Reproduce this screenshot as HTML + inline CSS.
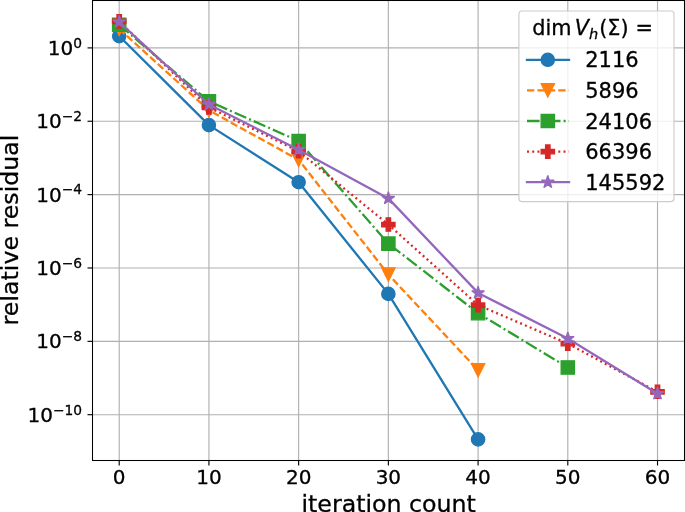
<!DOCTYPE html>
<html lang="en"><head><meta charset="utf-8"><title>relative residual vs iteration count</title>
<style>html,body{margin:0;padding:0;background:#fff;overflow:hidden}svg{display:block}text{font-family:"DejaVu Sans","Liberation Sans",sans-serif;fill:#000;stroke:#000;stroke-width:0.3px}.it{font-style:oblique}</style></head><body>
<svg width="685" height="512" viewBox="0 0 685 512">
<rect width="685" height="512" fill="#fff"/>
<g stroke="#b0b0b0" stroke-width="1.14" fill="none">
<line x1="119.20" y1="0.5" x2="119.20" y2="460.5"/>
<line x1="208.92" y1="0.5" x2="208.92" y2="460.5"/>
<line x1="298.64" y1="0.5" x2="298.64" y2="460.5"/>
<line x1="388.36" y1="0.5" x2="388.36" y2="460.5"/>
<line x1="478.08" y1="0.5" x2="478.08" y2="460.5"/>
<line x1="567.80" y1="0.5" x2="567.80" y2="460.5"/>
<line x1="657.52" y1="0.5" x2="657.52" y2="460.5"/>
<line x1="92.5" y1="47.90" x2="684.5" y2="47.90"/>
<line x1="92.5" y1="121.26" x2="684.5" y2="121.26"/>
<line x1="92.5" y1="194.62" x2="684.5" y2="194.62"/>
<line x1="92.5" y1="267.98" x2="684.5" y2="267.98"/>
<line x1="92.5" y1="341.34" x2="684.5" y2="341.34"/>
<line x1="92.5" y1="414.70" x2="684.5" y2="414.70"/>
</g>
<clipPath id="ax"><rect x="92.5" y="0.5" width="592.0" height="460.0"/></clipPath>
<g clip-path="url(#ax)">
<polyline points="119.20,36.10 208.92,125.10 298.64,182.20 388.36,293.90 478.08,439.40" fill="none" stroke="#1f77b4" stroke-width="2.3" stroke-linejoin="round" stroke-linecap="square"/>
<circle cx="119.20" cy="36.10" r="6.65" fill="#1f77b4" stroke="#1f77b4" stroke-width="1.31"/>
<circle cx="208.92" cy="125.10" r="6.65" fill="#1f77b4" stroke="#1f77b4" stroke-width="1.31"/>
<circle cx="298.64" cy="182.20" r="6.65" fill="#1f77b4" stroke="#1f77b4" stroke-width="1.31"/>
<circle cx="388.36" cy="293.90" r="6.65" fill="#1f77b4" stroke="#1f77b4" stroke-width="1.31"/>
<circle cx="478.08" cy="439.40" r="6.65" fill="#1f77b4" stroke="#1f77b4" stroke-width="1.31"/>
<polyline points="119.20,28.90 208.92,110.30 298.64,159.80 388.36,274.50 478.08,370.20" fill="none" stroke="#ff7f0e" stroke-width="2.3" stroke-linejoin="round" stroke-dasharray="7.29 3.15"/>
<polygon points="119.20,35.55 125.85,22.25 112.55,22.25" fill="#ff7f0e" stroke="#ff7f0e" stroke-width="1.31"/>
<polygon points="208.92,116.95 215.57,103.65 202.27,103.65" fill="#ff7f0e" stroke="#ff7f0e" stroke-width="1.31"/>
<polygon points="298.64,166.45 305.29,153.15 291.99,153.15" fill="#ff7f0e" stroke="#ff7f0e" stroke-width="1.31"/>
<polygon points="388.36,281.15 395.01,267.85 381.71,267.85" fill="#ff7f0e" stroke="#ff7f0e" stroke-width="1.31"/>
<polygon points="478.08,376.85 484.73,363.55 471.43,363.55" fill="#ff7f0e" stroke="#ff7f0e" stroke-width="1.31"/>
<polyline points="119.20,24.80 208.92,101.30 298.64,141.00 388.36,243.60 478.08,313.20 567.80,367.50" fill="none" stroke="#2ca02c" stroke-width="2.3" stroke-linejoin="round" stroke-dasharray="12.6 3.15 1.97 3.15"/>
<polygon points="112.55,18.15 125.85,18.15 125.85,31.45 112.55,31.45" fill="#2ca02c" stroke="#2ca02c" stroke-width="1.31"/>
<polygon points="202.27,94.65 215.57,94.65 215.57,107.95 202.27,107.95" fill="#2ca02c" stroke="#2ca02c" stroke-width="1.31"/>
<polygon points="291.99,134.35 305.29,134.35 305.29,147.65 291.99,147.65" fill="#2ca02c" stroke="#2ca02c" stroke-width="1.31"/>
<polygon points="381.71,236.95 395.01,236.95 395.01,250.25 381.71,250.25" fill="#2ca02c" stroke="#2ca02c" stroke-width="1.31"/>
<polygon points="471.43,306.55 484.73,306.55 484.73,319.85 471.43,319.85" fill="#2ca02c" stroke="#2ca02c" stroke-width="1.31"/>
<polygon points="561.15,360.85 574.45,360.85 574.45,374.15 561.15,374.15" fill="#2ca02c" stroke="#2ca02c" stroke-width="1.31"/>
<polyline points="119.20,21.40 208.92,107.40 298.64,151.30 388.36,224.50 478.08,305.10 567.80,343.60 657.52,391.80" fill="none" stroke="#d62728" stroke-width="2.3" stroke-linejoin="round" stroke-dasharray="1.97 3.25"/>
<polygon points="116.98,14.75 121.42,14.75 121.42,19.18 125.85,19.18 125.85,23.62 121.42,23.62 121.42,28.05 116.98,28.05 116.98,23.62 112.55,23.62 112.55,19.18 116.98,19.18" fill="#d62728" stroke="#d62728" stroke-width="1.31"/>
<polygon points="206.70,100.75 211.14,100.75 211.14,105.18 215.57,105.18 215.57,109.62 211.14,109.62 211.14,114.05 206.70,114.05 206.70,109.62 202.27,109.62 202.27,105.18 206.70,105.18" fill="#d62728" stroke="#d62728" stroke-width="1.31"/>
<polygon points="296.42,144.65 300.86,144.65 300.86,149.08 305.29,149.08 305.29,153.52 300.86,153.52 300.86,157.95 296.42,157.95 296.42,153.52 291.99,153.52 291.99,149.08 296.42,149.08" fill="#d62728" stroke="#d62728" stroke-width="1.31"/>
<polygon points="386.14,217.85 390.58,217.85 390.58,222.28 395.01,222.28 395.01,226.72 390.58,226.72 390.58,231.15 386.14,231.15 386.14,226.72 381.71,226.72 381.71,222.28 386.14,222.28" fill="#d62728" stroke="#d62728" stroke-width="1.31"/>
<polygon points="475.86,298.45 480.30,298.45 480.30,302.88 484.73,302.88 484.73,307.32 480.30,307.32 480.30,311.75 475.86,311.75 475.86,307.32 471.43,307.32 471.43,302.88 475.86,302.88" fill="#d62728" stroke="#d62728" stroke-width="1.31"/>
<polygon points="565.58,336.95 570.02,336.95 570.02,341.38 574.45,341.38 574.45,345.82 570.02,345.82 570.02,350.25 565.58,350.25 565.58,345.82 561.15,345.82 561.15,341.38 565.58,341.38" fill="#d62728" stroke="#d62728" stroke-width="1.31"/>
<polygon points="655.30,385.15 659.74,385.15 659.74,389.58 664.17,389.58 664.17,394.02 659.74,394.02 659.74,398.45 655.30,398.45 655.30,394.02 650.87,394.02 650.87,389.58 655.30,389.58" fill="#d62728" stroke="#d62728" stroke-width="1.31"/>
<polyline points="119.20,22.00 208.92,104.50 298.64,149.70 388.36,198.40 478.08,292.90 567.80,338.60 657.52,393.70" fill="none" stroke="#9467bd" stroke-width="2.3" stroke-linejoin="round" stroke-linecap="square"/>
<polygon points="119.20,15.35 117.71,19.95 112.88,19.95 116.78,22.78 115.29,27.38 119.20,24.54 123.11,27.38 121.62,22.78 125.52,19.95 120.69,19.95" fill="#9467bd" stroke="#9467bd" stroke-width="1.31" stroke-linejoin="bevel"/>
<polygon points="208.92,97.85 207.43,102.45 202.60,102.45 206.50,105.28 205.01,109.88 208.92,107.04 212.83,109.88 211.34,105.28 215.24,102.45 210.41,102.45" fill="#9467bd" stroke="#9467bd" stroke-width="1.31" stroke-linejoin="bevel"/>
<polygon points="298.64,143.05 297.15,147.65 292.32,147.65 296.22,150.48 294.73,155.08 298.64,152.24 302.55,155.08 301.06,150.48 304.96,147.65 300.13,147.65" fill="#9467bd" stroke="#9467bd" stroke-width="1.31" stroke-linejoin="bevel"/>
<polygon points="388.36,191.75 386.87,196.35 382.04,196.35 385.94,199.18 384.45,203.78 388.36,200.94 392.27,203.78 390.78,199.18 394.68,196.35 389.85,196.35" fill="#9467bd" stroke="#9467bd" stroke-width="1.31" stroke-linejoin="bevel"/>
<polygon points="478.08,286.25 476.59,290.85 471.76,290.85 475.66,293.68 474.17,298.28 478.08,295.44 481.99,298.28 480.50,293.68 484.40,290.85 479.57,290.85" fill="#9467bd" stroke="#9467bd" stroke-width="1.31" stroke-linejoin="bevel"/>
<polygon points="567.80,331.95 566.31,336.55 561.48,336.55 565.38,339.38 563.89,343.98 567.80,341.14 571.71,343.98 570.22,339.38 574.12,336.55 569.29,336.55" fill="#9467bd" stroke="#9467bd" stroke-width="1.31" stroke-linejoin="bevel"/>
<polygon points="657.52,387.05 656.03,391.65 651.20,391.65 655.10,394.48 653.61,399.08 657.52,396.24 661.43,399.08 659.94,394.48 663.84,391.65 659.01,391.65" fill="#9467bd" stroke="#9467bd" stroke-width="1.31" stroke-linejoin="bevel"/>
</g>
<rect x="92.5" y="0.5" width="592.0" height="460.0" fill="none" stroke="#000" stroke-width="1.05"/>
<g stroke="#000" stroke-width="1.14">
<line x1="119.20" y1="460.5" x2="119.20" y2="465.5"/>
<line x1="208.92" y1="460.5" x2="208.92" y2="465.5"/>
<line x1="298.64" y1="460.5" x2="298.64" y2="465.5"/>
<line x1="388.36" y1="460.5" x2="388.36" y2="465.5"/>
<line x1="478.08" y1="460.5" x2="478.08" y2="465.5"/>
<line x1="567.80" y1="460.5" x2="567.80" y2="465.5"/>
<line x1="657.52" y1="460.5" x2="657.52" y2="465.5"/>
<line x1="87.5" y1="47.90" x2="92.5" y2="47.90"/>
<line x1="87.5" y1="121.26" x2="92.5" y2="121.26"/>
<line x1="87.5" y1="194.62" x2="92.5" y2="194.62"/>
<line x1="87.5" y1="267.98" x2="92.5" y2="267.98"/>
<line x1="87.5" y1="341.34" x2="92.5" y2="341.34"/>
<line x1="87.5" y1="414.70" x2="92.5" y2="414.70"/>
</g>
<g font-size="20" text-anchor="middle">
<text x="119.20" y="484.4">0</text>
<text x="208.92" y="484.4">10</text>
<text x="298.64" y="484.4">20</text>
<text x="388.36" y="484.4">30</text>
<text x="478.08" y="484.4">40</text>
<text x="567.80" y="484.4">50</text>
<text x="657.52" y="484.4">60</text>
</g>
<g font-size="20" text-anchor="end">
<text x="82.0" y="55.00">10<tspan font-size="13.8" dy="-7.3">0</tspan></text>
<text x="82.0" y="128.36">10<tspan font-size="13.8" dy="-7.3">−2</tspan></text>
<text x="82.0" y="201.72">10<tspan font-size="13.8" dy="-7.3">−4</tspan></text>
<text x="82.0" y="275.08">10<tspan font-size="13.8" dy="-7.3">−6</tspan></text>
<text x="82.0" y="348.44">10<tspan font-size="13.8" dy="-7.3">−8</tspan></text>
<text x="82.0" y="421.80">10<tspan font-size="13.8" dy="-7.3">−10</tspan></text>
</g>
<text x="388.7" y="511.5" font-size="23.7" text-anchor="middle">iteration count</text>
<text transform="translate(18.0,230.0) rotate(-90)" font-size="23.7" text-anchor="middle">relative residual</text>
<rect x="518.9" y="11" width="155.1" height="190.6" rx="3" ry="3" fill="#fff" fill-opacity="0.8" stroke="#ccc" stroke-width="1.14"/>
<text x="532.3" y="34.6" font-size="20.8">dim<tspan dx="3.3" class="it">V</tspan><tspan class="it" font-size="14.6" dy="4">h</tspan><tspan dy="-4" dx="0.9">(Σ)</tspan><tspan dx="0.2" dy="0.5"> =</tspan></text>
<line x1="527.0" y1="59.8" x2="569.0" y2="59.8" stroke="#1f77b4" stroke-width="2.3" stroke-linecap="square"/>
<circle cx="547.80" cy="59.80" r="6.65" fill="#1f77b4" stroke="#1f77b4" stroke-width="1.31"/>
<text x="585.2" y="67.30" font-size="21">2116</text>
<line x1="527.0" y1="90.4" x2="569.0" y2="90.4" stroke="#ff7f0e" stroke-width="2.3" stroke-dasharray="7.29 3.15"/>
<polygon points="547.80,97.05 554.45,83.75 541.15,83.75" fill="#ff7f0e" stroke="#ff7f0e" stroke-width="1.31"/>
<text x="585.2" y="97.90" font-size="21">5896</text>
<line x1="527.0" y1="121.0" x2="569.0" y2="121.0" stroke="#2ca02c" stroke-width="2.3" stroke-dasharray="12.6 3.15 1.97 3.15"/>
<polygon points="541.15,114.35 554.45,114.35 554.45,127.65 541.15,127.65" fill="#2ca02c" stroke="#2ca02c" stroke-width="1.31"/>
<text x="585.2" y="128.50" font-size="21">24106</text>
<line x1="527.0" y1="151.6" x2="569.0" y2="151.6" stroke="#d62728" stroke-width="2.3" stroke-dasharray="1.97 3.25"/>
<polygon points="545.58,144.95 550.02,144.95 550.02,149.38 554.45,149.38 554.45,153.82 550.02,153.82 550.02,158.25 545.58,158.25 545.58,153.82 541.15,153.82 541.15,149.38 545.58,149.38" fill="#d62728" stroke="#d62728" stroke-width="1.31"/>
<text x="585.2" y="159.10" font-size="21">66396</text>
<line x1="527.0" y1="182.2" x2="569.0" y2="182.2" stroke="#9467bd" stroke-width="2.3" stroke-linecap="square"/>
<polygon points="547.80,175.55 546.31,180.15 541.48,180.15 545.38,182.98 543.89,187.58 547.80,184.74 551.71,187.58 550.22,182.98 554.12,180.15 549.29,180.15" fill="#9467bd" stroke="#9467bd" stroke-width="1.31" stroke-linejoin="bevel"/>
<text x="585.2" y="189.70" font-size="21">145592</text>
</svg></body></html>
